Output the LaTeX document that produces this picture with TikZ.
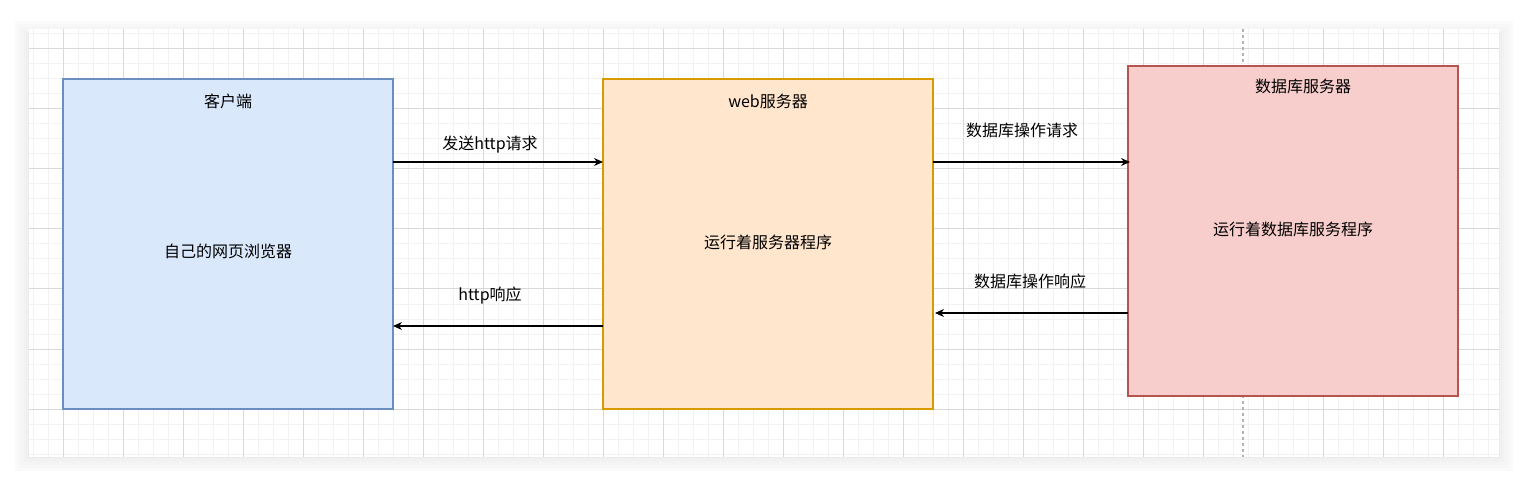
\documentclass[tikz,border=0pt]{standalone}
\usepackage{fontspec}
\setmainfont{Noto Sans CJK SC}
\usetikzlibrary{arrows.meta}
\begin{document}
\begin{tikzpicture}[x=1pt,y=-1pt,
  box/.style={draw, line width=1.2pt, inner sep=0},
  lbl/.style={font=\fontsize{16}{18}\selectfont, inner sep=0},
  arr/.style={-{Stealth[length=9pt,width=8pt]}, line width=1.2pt}]
\useasboundingbox (0,0) rectangle (1528,486);
\fill[white] (0,0) rectangle (1528,486);
\foreach \i/\c in {14/2,11/3,8/4,5/5,3/6,1/8}{
  \fill[black!\c] (29-\i,29-\i+6) rectangle (1499+\i,457+\i);}
\fill[white] (29,29) rectangle (1499,457);
\begin{scope}
\clip (29,29) rectangle (1499,457);
\foreach \x in {3,18,...,1500} \draw[black!5, line width=1pt] (\x,29) -- (\x,457);
\foreach \y in {4,19,...,460} \draw[black!5, line width=1pt] (29,\y) -- (1499,\y);
\foreach \x in {3,63,...,1500} \draw[black!15, line width=1pt] (\x,29) -- (\x,457);
\foreach \y in {49,109,...,460} \draw[black!15, line width=1pt] (29,\y) -- (1499,\y);
\draw[black!30, dashed, line width=1.2pt] (1243,29) -- (1243,457);
\end{scope}
\node[box, fill={rgb,255:red,218;green,232;blue,252}, draw={rgb,255:red,108;green,142;blue,191}, minimum width=330pt, minimum height=330pt] (c) at (228,244) {};
\node[box, fill={rgb,255:red,255;green,230;blue,204}, draw={rgb,255:red,215;green,155;blue,0}, minimum width=330pt, minimum height=330pt] (w) at (768,244) {};
\node[box, fill={rgb,255:red,248;green,206;blue,204}, draw={rgb,255:red,184;green,84;blue,80}, minimum width=330pt, minimum height=330pt] (d) at (1293,231) {};
\node[lbl] (ct) at (228,101) {客户端};
\node[lbl] (cm) at (228,251) {自己的网页浏览器};
\node[lbl] (wt) at (768,101) {web服务器};
\node[lbl] (wm) at (768,242) {运行着服务器程序};
\node[lbl] (dt) at (1303,86) {数据库服务器};
\node[lbl] (dm) at (1293,229) {运行着数据库服务程序};
\coordinate (a1s) at (393,162); \coordinate (a1e) at (603,162);
\coordinate (a2s) at (603,326); \coordinate (a2e) at (393,326);
\coordinate (a3s) at (933,162); \coordinate (a3e) at (1130,162);
\coordinate (a4s) at (1128,313); \coordinate (a4e) at (935,313);
\draw[arr] (a1s) -- (a1e);
\draw[arr] (a2s) -- (a2e);
\draw[arr] (a3s) -- (a3e);
\draw[arr] (a4s) -- (a4e);
\node[lbl] (l1) at (490,145) {发送http请求};
\node[lbl] (l2) at (490,296) {http响应};
\node[lbl] (l3) at (1022,130) {数据库操作请求};
\node[lbl] (l4) at (1030,281) {数据库操作响应};
\end{tikzpicture}
\end{document}
